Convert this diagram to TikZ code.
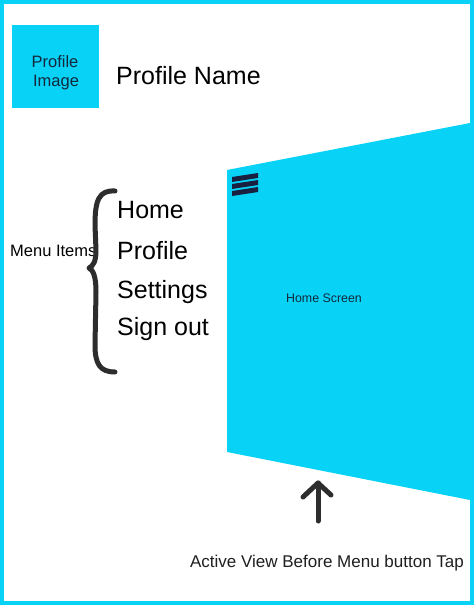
\documentclass[tikz,border=0pt]{standalone}
\usepackage{fontspec}
\setmainfont{Liberation Sans}
\definecolor{cyanfill}{RGB}{8,211,247}
\definecolor{navy}{RGB}{26,32,64}
\definecolor{inktext}{RGB}{20,40,60}
\definecolor{penink}{RGB}{45,45,45}
\begin{document}
\begin{tikzpicture}[x=1pt,y=-1pt,
  big/.style={font=\fontsize{25}{30}\selectfont, inner sep=0pt, anchor=base west, text=black},
  mid/.style={font=\fontsize{16.5}{20}\selectfont, inner sep=0pt, text=black},
  pen/.style={draw=penink, line width=5pt, line cap=round, line join=round}]
\useasboundingbox (0,0) rectangle (474,605);
% frame
\fill[cyanfill] (0,0) rectangle (474,605);
\fill[white] (4,4) rectangle (470,601);
% profile image
\node[fill=cyanfill, minimum width=87pt, minimum height=83pt, inner sep=0pt, anchor=north west] (img) at (12,25) {};
\node[mid, text=inktext, anchor=base] (imgt1) at (55,67) {Profile};
\node[mid, text=inktext, anchor=base] (imgt2) at (56,86) {Image};
\node[big] (pname) at (116,84) {Profile Name};
% screen
\fill[cyanfill] (227,170) -- (470,123) -- (470,500) -- (227,452) -- cycle;
\coordinate (scr) at (227,170);
\foreach \i in {0,1,2}{
  \fill[navy] (232,177+7*\i) -- (258,173+7*\i) -- (258,178+7*\i) -- (232,182+7*\i) -- cycle;
}
\node[font=\fontsize{12.4}{15}\selectfont, text=inktext, inner sep=0pt] (hs) at (324,298) {Home Screen};
% menu
\node[big] (home) at (117,218) {Home};
\node[big] (prof) at (117,259) {Profile};
\node[big] (sett) at (117,298) {Settings};
\node[big] (sign) at (117,335) {Sign out};
\node[mid, anchor=base west] (mi) at (10,256) {Menu Items};
\coordinate (bt) at (115,191);
\coordinate (bb) at (115,372);
\coordinate (bm) at (89,268);
\draw[pen] (bt) .. controls (99,190) and (95,200) .. (95,225) -- (96,250)
  .. controls (96,262) and (93,266) .. (bm)
  .. controls (93,270) and (96,276) .. (96,292) -- (95,345)
  .. controls (95,364) and (100,372) .. (bb);
% arrow
\coordinate (atail) at (318,521);
\coordinate (atip) at (318,483);
\coordinate (al) at (303,497);
\coordinate (ar) at (331,495);
\draw[pen] (atail) -- (atip);
\draw[pen] (al) -- (atip) -- (ar);
\node[font=\fontsize{17}{20}\selectfont, text=black!88, inner sep=0pt, anchor=base] (cap) at (327,567) {Active View Before Menu button Tap};
\end{tikzpicture}
\end{document}
